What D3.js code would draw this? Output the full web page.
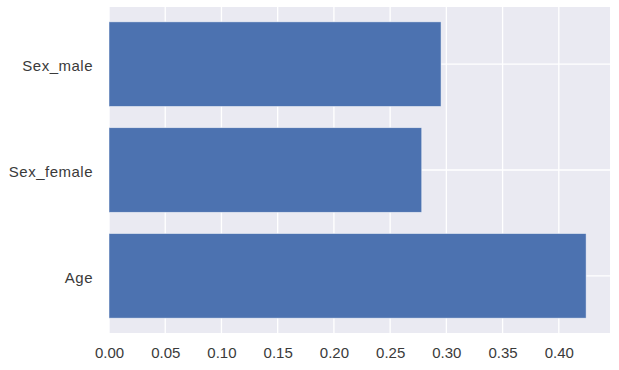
<!doctype html>
<html lang="en">
<head>
<meta charset="utf-8" />
<script src="https://cdn.jsdelivr.net/npm/d3@7"></script>
<style>
	body { margin: 0; background: #fff; }
	text { font-family: "Liberation Sans", Arial, sans-serif; fill: #3a3a3a; }
</style>
</head>
<body>
<svg id="chart" width="619" height="370"></svg>
<script>
	// feature importances
	const features = ["Age", "Sex_female", "Sex_male"];
	const importance = [0.4243, 0.2781, 0.2953];
	const xTicks = [0, 0.05, 0.1, 0.15, 0.2, 0.25, 0.3, 0.35, 0.4];

	const MARGIN = { LEFT: 109, RIGHT: 9, TOP: 7, BOTTOM: 37 };
	const W = 619 - MARGIN.LEFT - MARGIN.RIGHT;
	const H = 370 - MARGIN.TOP - MARGIN.BOTTOM;

	const svg = d3.select("#chart");
	const g = svg.append("g").attr("transform", `translate(${MARGIN.LEFT},${MARGIN.TOP})`);

	const xMax = d3.max(importance) * 1.05;
	const x = d3.scaleLinear().domain([0, xMax]).range([0, W]);
	// matplotlib style: bar index positions, 0.8 tall bars, 5% margins
	const y = d3.scaleLinear().domain([-0.54, features.length - 1 + 0.54]).range([H, 0]);

	g.append("rect").attr("width", W).attr("height", H).attr("fill", "#eaeaf2");

	g.append("g")
		.selectAll("line")
		.data(xTicks)
		.join("line")
		.attr("x1", (d) => x(d))
		.attr("x2", (d) => x(d))
		.attr("y1", 0)
		.attr("y2", H)
		.attr("stroke", "#fff")
		.attr("stroke-width", 1.3);

	g.append("g")
		.selectAll("line")
		.data(features)
		.join("line")
		.attr("x1", 0)
		.attr("x2", W)
		.attr("y1", (d, i) => y(i))
		.attr("y2", (d, i) => y(i))
		.attr("stroke", "#fff")
		.attr("stroke-width", 1.3);

	g.append("g")
		.selectAll("rect")
		.data(importance)
		.join("rect")
		.attr("x", x(0))
		.attr("y", (d, i) => y(i + 0.4))
		.attr("width", (d) => x(d) - x(0))
		.attr("height", y(-0.4) - y(0.4))
		.attr("fill", "#4c72b0")
		.attr("stroke", "#fff")
		.attr("stroke-opacity", 0.6)
		.attr("stroke-width", 0.8);

	const xAxis = d3.axisBottom(x).tickValues(xTicks).tickFormat(d3.format(".2f")).tickSize(0).tickPadding(14);
	const gx = g.append("g").attr("transform", `translate(0,${H})`).call(xAxis);
	gx.select(".domain").remove();
	gx.selectAll("text").attr("font-size", 15).attr("fill", "#3a3a3a");

	const yAxis = d3.axisLeft(y).tickValues(d3.range(features.length)).tickFormat((i) => features[i]).tickSize(0).tickPadding(16);
	const gy = g.append("g").call(yAxis);
	gy.select(".domain").remove();
	gy.selectAll("text")
		.attr("font-size", 15)
		.attr("letter-spacing", 0.5)
		.attr("dy", "0.45em")
		.attr("fill", "#3a3a3a");
</script>
</body>
</html>
